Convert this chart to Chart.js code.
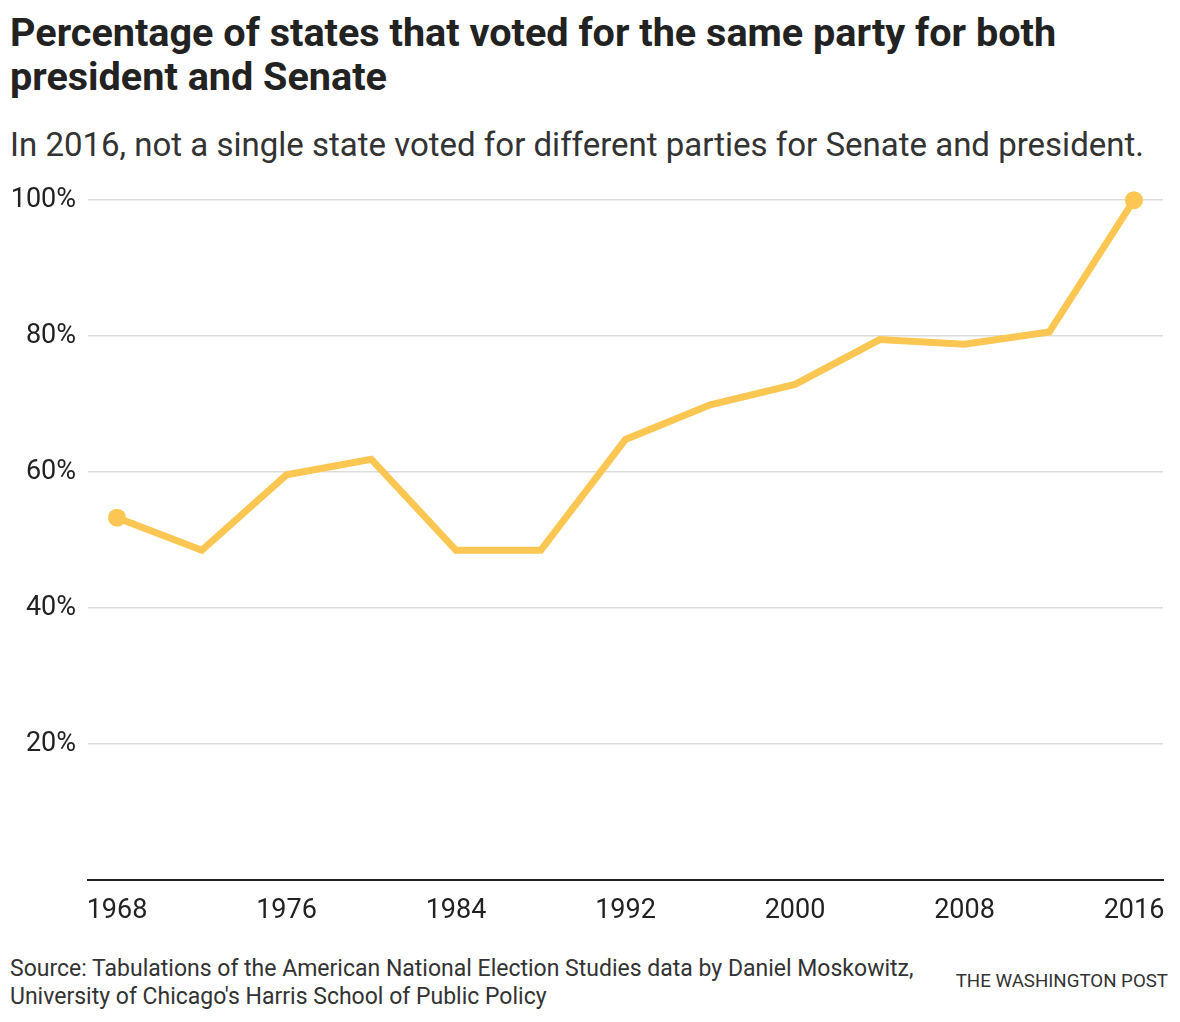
<!DOCTYPE html>
<html>
<head>
<meta charset="utf-8">
<script src="https://cdn.jsdelivr.net/npm/chart.js@4"></script>
<style>
  html, body { margin:0; padding:0; background:#fff; }
  body { width:1180px; height:1022px; position:relative; overflow:hidden; font-family: Roboto, "Noto Sans", sans-serif; color:#222; }
  #title { position:absolute; left:10px; top:11px; font-weight:700; font-size:39.6px; line-height:44px; color:#222; white-space:nowrap; }
  #subtitle { position:absolute; left:10px; top:126px; font-size:33px; font-weight:400; color:#333; line-height:38px; white-space:nowrap; }
  #wrap { position:absolute; left:0; top:172px; width:1180px; height:768px; }
  #source { position:absolute; left:10px; top:955px; font-size:23px; line-height:28px; color:#333; white-space:nowrap; }
  #credit { position:absolute; right:12px; top:970px; font-size:18.7px; color:#333; white-space:nowrap; }
</style>
</head>
<body>
<div id="title">Percentage of states that voted for the same party for both<br>president and Senate</div>
<div id="subtitle">In 2016, not a single state voted for different parties for Senate and president.</div>
<div id="wrap"><canvas id="c" width="1180" height="768"></canvas></div>
<div id="source">Source: Tabulations of the American National Election Studies data by Daniel Moskowitz,<br>University of Chicago's Harris School of Public Policy</div>
<div id="credit">THE WASHINGTON POST</div>
<script>
const years = [1968, 1972, 1976, 1980, 1984, 1988, 1992, 1996, 2000, 2004, 2008, 2012, 2016];
const sameParty = [53.3, 48.5, 59.6, 61.9, 48.5, 48.5, 64.8, 69.9, 72.9, 79.5, 78.8, 80.6, 100];
const xTicks = [1968, 1976, 1984, 1992, 2000, 2008, 2016];
const yTicks = [0, 20, 40, 60, 80, 100];

const points = years.map((y, i) => ({ x: y, y: sameParty[i] }));
const lastIdx = points.length - 1;

new Chart(document.getElementById('c'), {
  type: 'line',
  data: {
    datasets: [{
      data: points,
      borderColor: '#fcc653',
      backgroundColor: '#fcc653',
      borderWidth: 7,
      tension: 0,
      clip: false,
      borderJoinStyle: 'miter',
      pointRadius: ctx => (ctx.dataIndex === 0 || ctx.dataIndex === lastIdx) ? 9 : 0,
      pointHoverRadius: ctx => (ctx.dataIndex === 0 || ctx.dataIndex === lastIdx) ? 9 : 0,
      pointBorderWidth: 0,
      pointBackgroundColor: '#fcc653'
    }]
  },
  options: {
    responsive: false,
    animation: false,
    devicePixelRatio: 1,
    layout: { padding: { top: 13, right: 17, left: 0, bottom: 0 } },
    plugins: { legend: { display: false }, tooltip: { enabled: false } },
    scales: {
      x: {
        type: 'linear',
        min: 1966.63,
        max: 2017.37,
        afterBuildTicks: s => { s.ticks = xTicks.map(v => ({ value: v })); },
        afterFit: s => { s.height = 60; },
        grid: { display: false, drawTicks: false },
        border: { display: true, color: '#222', width: 2 },
        ticks: {
          padding: 15,
          maxRotation: 0,
          autoSkip: false,
          color: '#222',
          font: { family: 'Roboto', size: 27 },
          callback: v => String(v)
        }
      },
      y: {
        min: 0,
        max: 100,
        afterBuildTicks: s => { s.ticks = yTicks.map(v => ({ value: v })); },
        afterFit: s => { s.width = 88; },
        grid: {
          drawTicks: false,
          color: ctx => ctx.tick && ctx.tick.value === 0 ? 'rgba(0,0,0,0)' : '#dcdcdc',
          lineWidth: 1.5
        },
        border: { display: false },
        ticks: {
          padding: 12,
          color: '#222',
          font: { family: 'Roboto', size: 27 },
          callback: v => v === 0 ? '' : v + '%'
        }
      }
    }
  }
});
</script>
</body>
</html>
